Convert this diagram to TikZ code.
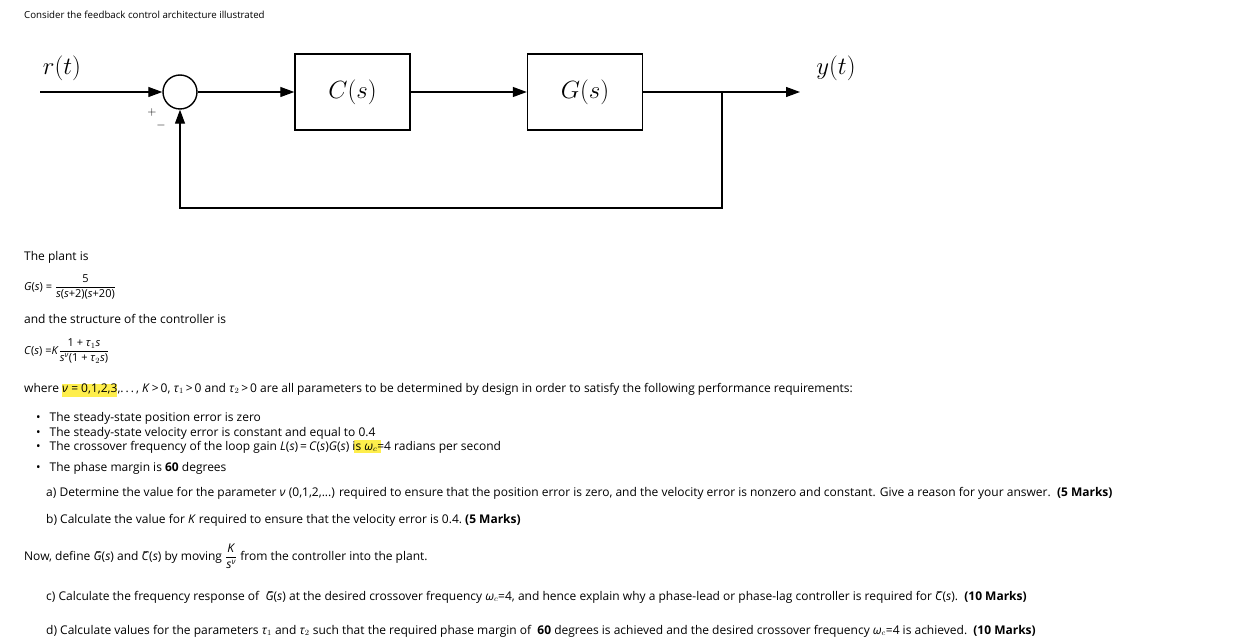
\documentclass[tikz,border=0pt]{standalone}
\usepackage{amsmath}
\usepackage{fontspec}
\setmainfont{Open Sans}
\usetikzlibrary{arrows.meta}
\newcommand{\fr}[2]{$\dfrac{\hbox{#1}}{\hbox{#2}}$}
\begin{document}
\begin{tikzpicture}[x=1pt,y=-1pt,
  blk/.style={draw,line width=1.4pt,minimum width=115pt,minimum height=76pt,font=\Huge},
  ln/.style={line width=1.2pt},
  arr/.style={ln,-{Triangle[length=14pt,width=10pt]}},
  tx/.style={anchor=base west,inner sep=0pt,font=\fontsize{12pt}{14pt}\selectfont},
  hl/.style={fill=yellow!90!orange!70,draw=none}]
\useasboundingbox[fill=white] (0,0) rectangle (1243,644);
% diagram
\node[font=\Huge] (r) at (62,68) {$r(t)$};
\node[font=\Huge] (y) at (836,68) {$y(t)$};
\coordinate (in) at (40,92);
\node[circle,draw,line width=1.4pt,minimum size=34pt,inner sep=0pt] (sum) at (180,92) {};
\node[blk] (C) at (352.5,92) {$C(s)$};
\node[blk] (G) at (585,92) {$G(s)$};
\coordinate (out) at (800,92);
\coordinate (tap) at (722,92);
\coordinate (fb1) at (722,208);
\coordinate (fb2) at (180,208);
\draw[arr] (in) -- (sum.west);
\draw[arr] (sum.east) -- (C.west);
\draw[arr] (C.east) -- (G.west);
\draw[arr] (G.east) -- (out);
\draw[arr] (tap) -- (fb1) -- (fb2) -- (sum.south);
\node[font=\large] (plus) at (152,113) {$+$};
\node[font=\large] (minus) at (161,126) {$-$};
% text
\node[tx,font=\fontsize{9.7pt}{11pt}\selectfont] (t0) at (24,19) {Consider the feedback control architecture illustrated};
\node[tx] (t1) at (24,261) {The plant is};
\fill[hl] (62,384) rectangle (117,397);
\fill[hl] (354,440) rectangle (381,453);
\node[tx,anchor=west] (t2) at (24,287) {\fontsize{11pt}{13pt}\selectfont\textit{G}(\textit{s}) = \fr{5}{\textit{s}(\textit{s}+2)(\textit{s}+20)}};
\node[tx] (t3) at (24,324) {and the structure of the controller is};
\node[tx,anchor=west] (t4) at (24,351) {\fontsize{11pt}{13pt}\selectfont\textit{C}(\textit{s}) =\textit{K}\fr{1 + \textit{τ}$_1$\textit{s}}{\textit{s}$^{\textit{ν}}$(1 + \textit{τ}$_2$\textit{s})}};
\node[tx] (t5) at (24,392) {where \textit{ν} = 0,1,2,3,.\,.\,.\,, \textit{K}\,>\,0, \textit{τ}$_1$\,>\,0 and \textit{τ}$_2$\,>\,0 are all parameters to be determined by design in order to satisfy the following performance requirements:};
\node[tx] (b1) at (36,421) {•\hspace{9pt}The steady-state position error is zero};
\node[tx] (b2) at (36,436) {•\hspace{9pt}The steady-state velocity error is constant and equal to 0.4};
\node[tx] (b3) at (36,450) {•\hspace{9pt}The crossover frequency of the loop gain \textit{L}(\textit{s})\,=\,\textit{C}(\textit{s})\textit{G}(\textit{s}) is \textit{ω}$_c$=4 radians per second};
\node[tx] (b4) at (36,471) {•\hspace{9pt}The phase margin is \textbf{60} degrees};
\node[tx] (qa) at (46,496) {a) Determine the value for the parameter \textit{ν} (0,1,2,...) required to ensure that the position error is zero, and the velocity error is nonzero and constant. Give a reason for your answer.\ \ \textbf{(5 Marks)}};
\node[tx] (qb) at (46,523) {b) Calculate the value for \textit{K} required to ensure that the velocity error is 0.4.\ \textbf{(5 Marks)}};
\node[tx,anchor=west] (t6) at (24,556) {Now, define \~{\textit{G}}(\textit{s}) and \~{\textit{C}}(\textit{s}) by moving \fr{\textit{K}}{\textit{s}$^{\textit{ν}}$} from the controller into the plant.};
\node[tx] (qc) at (46,600) {c) Calculate the frequency response of \ \~{\textit{G}}(\textit{s}) at the desired crossover frequency \textit{ω}$_c$=4, and hence explain why a phase-lead or phase-lag controller is required for \~{\textit{C}}(\textit{s}).\ \ \textbf{(10 Marks)}};
\node[tx] (qd) at (46,634) {d) Calculate values for the parameters \textit{τ}$_1$ and \textit{τ}$_2$ such that the required phase margin of \ \textbf{60} degrees is achieved and the desired crossover frequency \textit{ω}$_c$=4 is achieved.\ \ \textbf{(10 Marks)}};
\end{tikzpicture}
\end{document}
